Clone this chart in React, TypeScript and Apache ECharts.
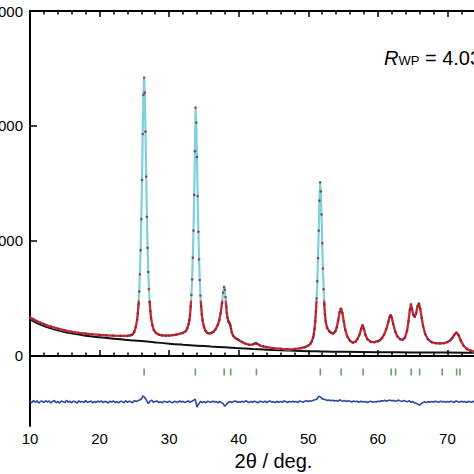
import { useEffect, useRef } from "react";
import * as echarts from "echarts";

// Observed powder pattern: 2θ (deg) and intensity (counts)
const OBS_2THETA = [
  10.0, 10.5, 11.0, 11.5, 12.0, 13.0, 14.0, 15.0, 16.0, 17.0, 18.0, 19.0, 20.0, 21.0, 22.0, 23.0, 24.0,
  24.4, 24.7, 25.0, 25.2, 25.4, 25.5, 25.6, 25.7, 25.8, 25.9, 26.0, 26.1, 26.2, 26.3, 26.4, 26.5, 26.6,
  26.7, 26.8, 26.9, 27.0, 27.1, 27.2, 27.3, 27.4, 27.6, 27.8, 28.1, 28.5, 29.0, 29.5, 30.0, 30.5, 31.0,
  31.5, 32.0, 32.4, 32.6, 32.8, 32.9, 33.0, 33.1, 33.2, 33.3, 33.4, 33.5, 33.6, 33.7, 33.8, 33.9, 34.0,
  34.1, 34.2, 34.3, 34.4, 34.5, 34.6, 34.7, 34.8, 35.0, 35.2, 35.5, 35.8, 36.1, 36.4, 36.7, 37.0, 37.2,
  37.4, 37.6, 37.75, 37.9, 38.0, 38.1, 38.2, 38.3, 38.4, 38.5, 38.6, 38.7, 38.8, 38.9, 39.0, 39.2, 39.5,
  39.8, 40.0, 40.5, 41.0, 41.5, 42.0, 42.3, 42.5, 42.7, 43.0, 43.5, 44.0, 45.0, 46.0, 47.0, 48.0, 49.0,
  49.5, 50.0, 50.3, 50.5, 50.7, 50.8, 50.9, 51.0, 51.1, 51.2, 51.3, 51.4, 51.5, 51.6, 51.7, 51.8, 51.9,
  52.0, 52.1, 52.2, 52.3, 52.4, 52.5, 52.7, 53.0, 53.3, 53.6, 53.9, 54.1, 54.3, 54.5, 54.7, 54.9, 55.1,
  55.3, 55.6, 56.0, 56.4, 56.8, 57.1, 57.4, 57.6, 57.8, 58.0, 58.2, 58.5, 59.0, 59.5, 60.0, 60.3, 60.6,
  60.9, 61.2, 61.5, 61.7, 61.85, 62.0, 62.2, 62.5, 62.8, 63.2, 63.6, 63.9, 64.2, 64.4, 64.6, 64.75, 64.9,
  65.1, 65.3, 65.5, 65.7, 65.9, 66.1, 66.3, 66.5, 66.8, 67.2, 67.7, 68.3, 68.9, 69.5, 70.0, 70.4, 70.7,
  71.0, 71.3, 71.6, 71.9, 72.3, 72.8, 73.3, 74.0, 75.0, 76.0, 78.0, 80.0,
];
const OBS_INTENSITY = [
  3350, 3180, 3020, 2880, 2760, 2540, 2370, 2220, 2100, 2010, 1940, 1880, 1830, 1790, 1760, 1740, 1740,
  1780, 1850, 2100, 2500, 3150, 3700, 4500, 5600, 7100, 9200, 11900, 15300, 19300, 22700, 24200, 22900, 19500,
  15600, 12100, 9400, 7300, 5800, 4700, 3900, 3300, 2650, 2250, 2000, 1850, 1780, 1760, 1770, 1800, 1850,
  1920, 2000, 2150, 2400, 2750, 3100, 3550, 4300, 5300, 6650, 8550, 10900, 14000, 17800, 21600, 20300, 17300,
  13900, 10800, 8400, 6600, 5250, 4300, 3600, 3100, 2550, 2200, 1990, 1950, 2000, 2120, 2330, 2700, 3100,
  3700, 4600, 5500, 6000, 5750, 5100, 4300, 3700, 3300, 3050, 2900, 2820, 2650, 2350, 2050, 1750, 1550,
  1450, 1380, 1200, 1050, 970, 990, 1070, 1110, 1040, 920, 820, 760, 680, 620, 560, 600, 680,
  760, 900, 1050, 1250, 1600, 1900, 2350, 3000, 3850, 5000, 6500, 8500, 10900, 13500, 15100, 14300, 12300,
  9800, 7600, 5800, 4500, 3600, 3000, 2450, 2150, 2000, 1950, 2150, 2500, 3100, 3800, 4120, 3750, 3000,
  2300, 1700, 1300, 1150, 1250, 1500, 1900, 2350, 2670, 2350, 1850, 1450, 1220, 1200, 1280, 1370, 1550,
  1850, 2300, 2950, 3400, 3540, 3350, 2800, 2100, 1700, 1450, 1400, 1600, 2200, 3000, 4000, 4500, 4100,
  3550, 3400, 3700, 4300, 4560, 4100, 3300, 2600, 1900, 1450, 1200, 1100, 1080, 1100, 1200, 1350, 1550,
  1850, 2030, 1800, 1350, 900, 600, 450, 380, 350, 340, 330, 320,
];

// Refined background
const BG_2THETA = [10, 11, 12, 13, 14, 15, 16, 18, 20, 22, 24, 26, 28, 30, 32, 34, 36, 38, 40, 42, 44, 46, 48, 50, 52, 55, 60, 65, 70, 75, 80];
const BG_INTENSITY = [3200, 2850, 2600, 2400, 2230, 2080, 1960, 1760, 1620, 1500, 1390, 1290, 1170, 1060, 970, 890, 810, 740, 670, 600, 540, 490, 450, 410, 380, 350, 320, 300, 285, 275, 265];

// Bragg reflection positions (2θ, deg)
const REFLECTIONS = [26.4, 33.77, 37.91, 38.85, 42.55, 51.73, 54.72, 57.88, 61.91, 62.55, 64.79, 66.0, 69.25, 71.32, 71.8];

// Difference curve (obs − calc) on a 0.25° grid starting at 10°
const DIFF_START = 10;
const DIFF_STEP = 0.25;
const DIFF_VALUES = [
  60, -80, 120, -40, 90, -110, 30, 70,
  -60, 100, -20, 80, -90, 40, 110, -50,
  20, -100, 70, 10, -70, 130, -30, 50,
  -80, 60, 20, -120, 90, -10, 40, -60,
  110, -40, 0, 80, -90, 30, -50, 70,
  -20, 90, -70, 40, 10, -100, 60, -30,
  80, -60, 30, -90, 50, 20, -70, 100,
  -40, 60, 10, -80, 120, 40, 90, 160,
  250, 520, 380, 120, -150, 60, 150, -40,
  30, 80, -60, 20, -90, 50, 10, -40,
  70, -30, -80, 40, 10, -60, 90, -20,
  50, -70, 20, 80, -40, 60, 120, 240,
  -450, -180, 40, -60, 20, -80, 50, 10,
  -40, 70, -20, 30, -90, 40, -60, -150,
  -380, -200, -50, 30, -60, 40, 80, -30,
  20, -50, 60, -20, 90, 10, -70, 40,
  -30, 60, 0, -80, 50, 20, -40, 70,
  -60, 30, 80, -20, 10, -70, 50, -30,
  40, -50, 90, 20, -60, 30, -20, 60,
  -10, 40, -70, 80, 20, -40, 60, 100,
  30, 90, 60, 150, 180, 250, 480, 420,
  260, 220, 180, 120, 160, 90, 150, 70,
  120, 40, 180, 100, 60, 110, 30, 90,
  50, -20, 80, 10, 60, -30, 40, 20,
  -20, 30, -60, 10, 50, -40, 20, -10,
  60, 30, 100, 70, 140, 60, 110, 150,
  90, 130, 60, 100, 150, 80, 40, 110,
  60, 20, 100, -40, 30, -80, -120, -200,
  -280, -150, -60, 0, -50, 20, -30, 40,
  -20, 50, 10, -40, 60, 0, 30, -30,
  40, -20, 60, 10, -50, 80, 20, -40,
  50, -20, 30, -60, 40, 10, -30, 50,
  20, -40, 60, -10, 30, -50, 40, 0,
  -30, 50, -20, 40, -60, 20, 30, -40,
  60, -10, 30, -50, 20, 40, -30, 10,
  20,
];
const DIFF_OFFSET = -4000;
const TICK_LEVEL = -1400;

const Y_TICKS = [0, 10000, 20000, 30000];
const X_MIN = 10;
const X_MAX = 80;
const Y_MIN = -6100;
const Y_MAX = 30000;
// Below this intensity the dense observed points merge into a solid red trace
const DENSE_LEVEL = 4800;
const RWP_VALUE = "4.03%";

const FONT = "'Liberation Sans', Arial, Helvetica, sans-serif";

export default function App() {
  const ref = useRef<HTMLDivElement>(null);

  useEffect(() => {
    if (!ref.current) return;
    const chart = echarts.init(ref.current, undefined, { renderer: "svg" });

    const obs = OBS_2THETA.map((x, i) => [x, OBS_INTENSITY[i]]);
    const bg = BG_2THETA.map((x, i) => [x, BG_INTENSITY[i]]);
    const diff = DIFF_VALUES.map((d, i) => [DIFF_START + i * DIFF_STEP, DIFF_OFFSET + d]);
    const ticks = REFLECTIONS.map((x) => [x, TICK_LEVEL]);

    const xAxisBase = {
      type: "value" as const,
      min: X_MIN,
      max: X_MAX,
      interval: 10,
      splitLine: { show: false },
      axisLine: { show: true, lineStyle: { color: "#000", width: 2 } },
      axisTick: { show: true, inside: true, length: 6, lineStyle: { color: "#000", width: 1.5 } },
      minorTick: { show: true, splitNumber: 5, length: 3.5, lineStyle: { color: "#000", width: 1.5 } },
    };

    chart.setOption({
      animation: false,
      backgroundColor: "#fff",
      grid: {
        left: 30,
        top: 11,
        right: 43,
        bottom: 48,
        containLabel: false,
        outerBoundsMode: "none",
      },
      xAxis: [
        {
          ...xAxisBase,
          position: "bottom",
          name: "2θ / deg.",
          nameLocation: "middle",
          nameGap: 23,
          nameTextStyle: { fontFamily: FONT, fontSize: 20, color: "#000" },
          axisLabel: { fontFamily: FONT, fontSize: 15, color: "#000", margin: 5, showMaxLabel: false },
        },
        {
          ...xAxisBase,
          position: "top",
          axisLabel: { show: false },
        },
      ],
      yAxis: {
        type: "value",
        min: Y_MIN,
        max: Y_MAX,
        splitLine: { show: false },
        axisLine: { show: true, lineStyle: { color: "#000", width: 2 } },
        axisTick: {
          show: true,
          inside: true,
          length: 7,
          customValues: Y_TICKS,
          lineStyle: { color: "#000", width: 1.5 },
        },
        axisLabel: {
          fontFamily: FONT,
          fontSize: 15,
          color: "#000",
          margin: 7,
          customValues: Y_TICKS,
          formatter: (v: number) => String(v),
        },
      },
      series: [
        {
          name: "background",
          type: "line",
          data: bg,
          smooth: 0.4,
          showSymbol: false,
          lineStyle: { color: "#111", width: 2 },
          z: 2,
        },
        {
          name: "calculated",
          type: "line",
          data: obs,
          showSymbol: false,
          lineStyle: { color: "#7fd0df", width: 2.2 },
          z: 3,
        },
        {
          name: "observed",
          type: "line",
          data: obs,
          showSymbol: false,
          lineStyle: { color: "#d4262a", width: 2.2 },
          z: 4,
        },
        {
          name: "observed points",
          type: "scatter",
          data: obs,
          symbolSize: 2.6,
          itemStyle: { color: "#8a2334" },
          z: 5,
        },
        {
          name: "reflections",
          type: "scatter",
          data: ticks,
          symbol: "rect",
          symbolSize: [1.6, 7],
          itemStyle: { color: "#3f8c3f" },
          z: 5,
        },
        {
          name: "difference",
          type: "line",
          data: diff,
          showSymbol: false,
          lineStyle: { color: "#2c4a9c", width: 1.6 },
          z: 5,
        },
      ],
      graphic: [
        {
          type: "text",
          left: 384,
          top: 48,
          style: {
            text: `{r|R}{s|WP}{n| = ${RWP_VALUE}}`,
            fill: "#000",
            rich: {
              r: { fontFamily: FONT, fontSize: 20, fontStyle: "italic", verticalAlign: "bottom", lineHeight: 23 },
              s: { fontFamily: FONT, fontSize: 13, verticalAlign: "bottom", lineHeight: 23, padding: [0, 0, 1, 0] },
              n: { fontFamily: FONT, fontSize: 20, verticalAlign: "bottom", lineHeight: 23 },
            },
          },
        },
      ],
    });

    // The red trace fades out above DENSE_LEVEL, leaving separate points on the fitted curve
    const yDense = chart.convertToPixel({ gridIndex: 0 }, [X_MIN, DENSE_LEVEL])[1];
    chart.setOption({
      series: [
        {},
        {},
        {
          lineStyle: {
            color: new echarts.graphic.LinearGradient(
              0,
              yDense - 1,
              0,
              yDense + 1,
              [
                { offset: 0, color: "rgba(212,38,42,0)" },
                { offset: 1, color: "#d4262a" },
              ],
              true
            ),
          },
        },
      ],
    });

    return () => chart.dispose();
  }, []);

  return (
    <div
      style={{
        position: "fixed",
        left: 0,
        top: 0,
        width: 474,
        height: 474,
        overflow: "hidden",
        background: "#fff",
      }}
    >
      <div ref={ref} style={{ width: 560, height: 474 }} />
    </div>
  );
}
